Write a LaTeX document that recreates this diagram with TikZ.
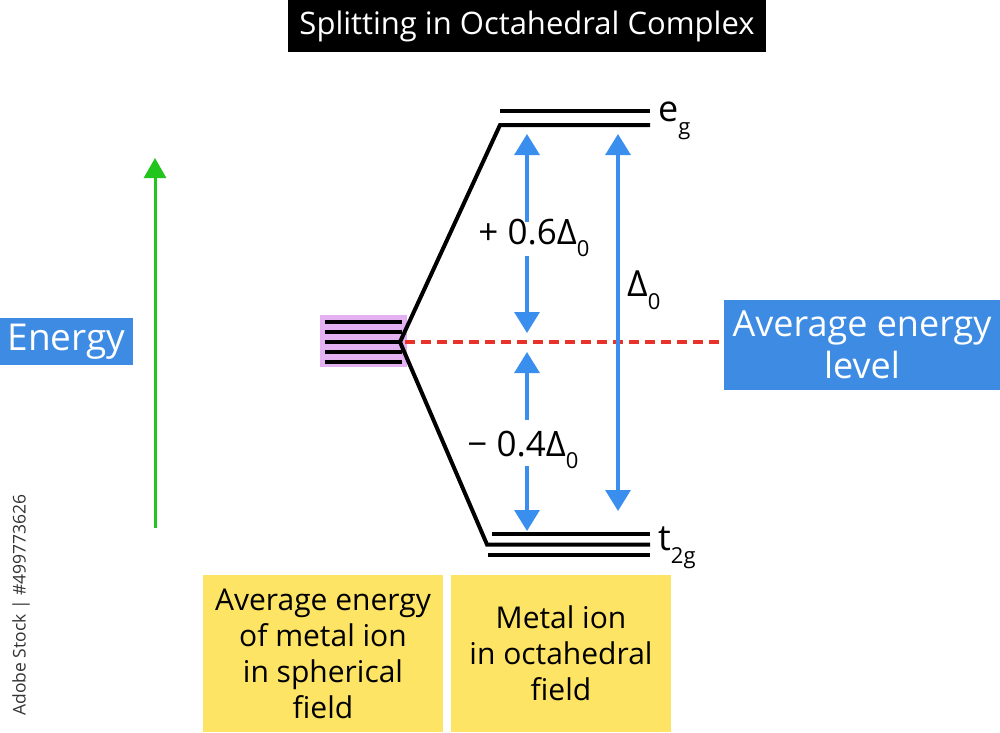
\documentclass[tikz,border=0pt]{standalone}
\usepackage{fontspec}
\setmainfont{Open Sans}
\usetikzlibrary{arrows.meta}
\definecolor{boxblue}{HTML}{3D8BE3}
\definecolor{arrblue}{HTML}{3A8EEE}
\definecolor{ylw}{HTML}{FDE464}
\definecolor{pinkv}{HTML}{E3B0F2}
\definecolor{dred}{HTML}{E8322A}
\definecolor{grn}{HTML}{22C41E}
\newcommand{\sbs}[1]{\raisebox{-0.35em}{\fontsize{22}{22}\selectfont #1}}
\tikzset{
  lvl/.style={line width=4pt},
  bluearr/.style={draw=arrblue,line width=3.2pt,-{Triangle[width=25pt,length=21pt]}},
  ybox/.style={fill=ylw,inner sep=0pt,align=center,font=\fontsize{30}{36}\selectfont},
  bbox/.style={fill=boxblue,text=white,inner sep=0pt,align=center,font=\fontsize{36}{42}\selectfont},
  lab/.style={inner sep=0pt,font=\fontsize{36}{40}\selectfont},
}
\begin{document}
\begin{tikzpicture}[x=1pt,y=-1pt]
\useasboundingbox (0,0) rectangle (1000,732);
% title
\node[fill=black,text=white,minimum width=478pt,minimum height=52pt,inner sep=0pt,font=\fontsize{31}{33}\selectfont] (title) at (527,26) {Splitting in Octahedral Complex};
% energy arrow
\coordinate (g0) at (155,528);
\coordinate (g1) at (155,158);
\draw[draw=grn,line width=3pt,-{Triangle[width=22pt,length=20pt]}] (g0) -- (g1);
\node[bbox,minimum width=133pt,minimum height=47pt,font=\fontsize{37}{42}\selectfont] (energy) at (66.5,341.5) {Energy};
% spherical levels
\node[fill=pinkv,minimum width=87pt,minimum height=52pt,inner sep=0pt] (sph) at (363.5,341) {};
\foreach \yy [count=\i] in {322,332,342,352,362}{
  \coordinate (sa\i) at (325,\yy);
  \coordinate (sb\i) at (402,\yy);
  \draw[line width=3.6pt] (sa\i) -- (sb\i);
}
% splitting lines
\coordinate (v) at (400,342);
\coordinate (eg1) at (500,125);
\coordinate (eg2) at (650,125);
\coordinate (eg3) at (500,110.5);
\coordinate (eg4) at (650,110.5);
\coordinate (t1) at (487,544.5);
\coordinate (t2) at (650,544.5);
\coordinate (t3) at (492,534);
\coordinate (t4) at (650,534);
\coordinate (t5) at (488,555);
\coordinate (t6) at (650,555);
\draw[lvl,line join=miter] (eg2) -- (eg1) -- (v) -- (t1) -- (t2);
\draw[lvl] (eg3) -- (eg4);
\draw[lvl] (t3) -- (t4);
\draw[lvl] (t5) -- (t6);
\node[lab,anchor=west] (eglab) at (658,121) {e\sbs{g}};
\node[lab,anchor=west] (tlab) at (658,548) {t\sbs{2g}};
% average line
\coordinate (r0) at (405,342);
\coordinate (r1) at (722,342);
\draw[draw=dred,line width=3.4pt,dash pattern=on 10pt off 6pt] (r0) -- (r1);
% blue arrows
\node[lab,font=\fontsize{35}{38}\selectfont] (p06) at (534,238) {+ 0.6Δ\sbs{0}};
\node[lab,font=\fontsize{35}{38}\selectfont] (m04) at (523,450) {− 0.4Δ\sbs{0}};
\coordinate (a1) at (527,222);
\coordinate (a1t) at (527,134);
\coordinate (a2) at (527,256);
\coordinate (a2t) at (527,333);
\coordinate (a3) at (527,420);
\coordinate (a3t) at (527,352);
\coordinate (a4) at (527,466);
\coordinate (a4t) at (527,531);
\draw[bluearr] (a1) -- (a1t);
\draw[bluearr] (a2) -- (a2t);
\draw[bluearr] (a3) -- (a3t);
\draw[bluearr] (a4) -- (a4t);
\coordinate (d0) at (618,134);
\coordinate (d1) at (618,511);
\draw[draw=arrblue,line width=3.2pt,{Triangle[width=25pt,length=21pt]}-{Triangle[width=25pt,length=21pt]}] (d0) -- (d1);
\node[lab,font=\fontsize{36}{38}\selectfont,anchor=west] (dlab) at (627,290) {Δ\sbs{0}};
% average energy level box
\node[bbox,minimum width=276pt,minimum height=90pt] (avg) at (862,345) {Average energy\\level};
% yellow boxes
\node[ybox,minimum width=240pt,minimum height=157pt] (ysph) at (323,653.5) {Average energy\\of metal ion\\in spherical\\field};
\node[ybox,minimum width=220pt,minimum height=157pt] (yoct) at (561,653.5) {Metal ion\\in octahedral\\field};
% watermark
\node[rotate=90,text=black!80,inner sep=0pt,font=\fontsize{17.5}{18}\selectfont] (wm) at (21,605) {Adobe Stock | \#499773626};
\end{tikzpicture}
\end{document}
